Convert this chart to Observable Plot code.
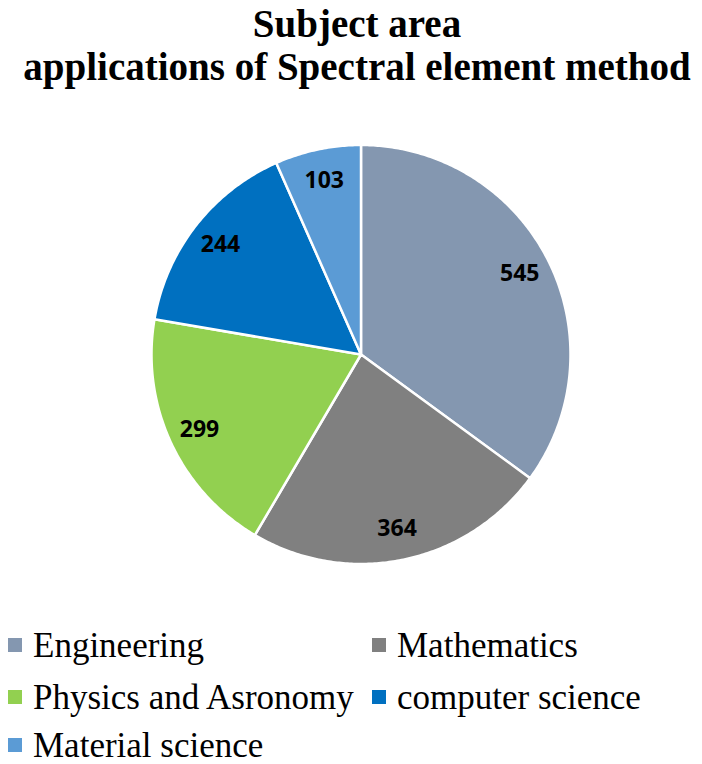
<!DOCTYPE html>
<html>
<head>
<meta charset="utf-8">
<script src="https://cdn.jsdelivr.net/npm/d3@7"></script>
<script src="https://cdn.jsdelivr.net/npm/@observablehq/plot@0.6"></script>
<style>
  html, body { margin: 0; padding: 0; background: #fff; }
  #wrap { position: relative; width: 702px; height: 764px; overflow: hidden; }
  #title { position: absolute; left: 0; top: 2px; width: 714px; text-align: center;
    font-family: "Liberation Serif", Tinos, "Times New Roman", Times, "DejaVu Serif", serif; font-weight: bold;
    font-size: 39px; line-height: 43px; color: #000; }
  #plot { position: absolute; left: 0; top: 100px; }
  .lg { position: absolute; font-family: "Liberation Serif", Tinos, "Times New Roman", Times, "DejaVu Serif", serif;
    font-size: 35px; line-height: 40px; color: #000; white-space: nowrap; }
  .sw { position: absolute; width: 14px; height: 14px; }
</style>
</head>
<body>
<div id="wrap">
  <div id="title">Subject area<br>applications of Spectral element method</div>
  <div id="plot"></div>
  <div id="legend"></div>
</div>
<script>
const subjects = ["Engineering", "Mathematics", "Physics and Asronomy", "computer science", "Material science"];
const counts = [545, 364, 299, 244, 103];
const colors = ["#8497b0", "#808080", "#92d050", "#0070c0", "#5b9bd5"];

const data = subjects.map((s, i) => ({name: s, value: counts[i]}));
const arcs = d3.pie().sort(null).value(d => d.value)(data);

const pts = [];
for (const a of arcs) {
  const n = Math.max(2, Math.ceil((a.endAngle - a.startAngle) / 0.01));
  pts.push({name: a.data.name, x: 0, y: 0});
  for (let k = 0; k <= n; k++) {
    const t = a.startAngle + (a.endAngle - a.startAngle) * k / n;
    pts.push({name: a.data.name, x: Math.sin(t), y: Math.cos(t)});
  }
  pts.push({name: a.data.name, x: 0, y: 0});
}
const labels = arcs.map(a => {
  const m = (a.startAngle + a.endAngle) / 2;
  return {name: a.data.name, value: a.data.value, x: 0.85 * Math.sin(m), y: 0.85 * Math.cos(m)};
});

const cx = 360.5, cy = 254, r = 209.5;
const chart = Plot.plot({
  width: 702,
  height: 500,
  margin: 0,
  x: {domain: [-1, 1], range: [cx - r, cx + r], axis: null},
  y: {domain: [-1, 1], range: [cy + r, cy - r], axis: null},
  color: {domain: subjects, range: colors},
  marks: [
    Plot.line(pts, {x: "x", y: "y", z: "name", fill: "name", stroke: "white", strokeWidth: 2.5, strokeLinejoin: "round"}),
    Plot.text(labels, {x: "x", y: "y", text: d => String(d.value), fontSize: 23, fontWeight: "bold",
      fontFamily: "'Open Sans', sans-serif", fill: "#000"})
  ]
});
document.getElementById("plot").appendChild(chart);

const pos = [[8, 626], [372, 626], [8, 678], [372, 678], [8, 726]];
const leg = document.getElementById("legend");
subjects.forEach((s, i) => {
  const [lx, ty] = pos[i];
  const sw = document.createElement("div");
  sw.className = "sw";
  sw.style.left = lx + "px";
  sw.style.top = (ty + 12) + "px";
  sw.style.background = colors[i];
  leg.appendChild(sw);
  const t = document.createElement("div");
  t.className = "lg";
  t.style.left = (lx + 25) + "px";
  t.style.top = ty + "px";
  t.textContent = s;
  leg.appendChild(t);
});
</script>
</body>
</html>
